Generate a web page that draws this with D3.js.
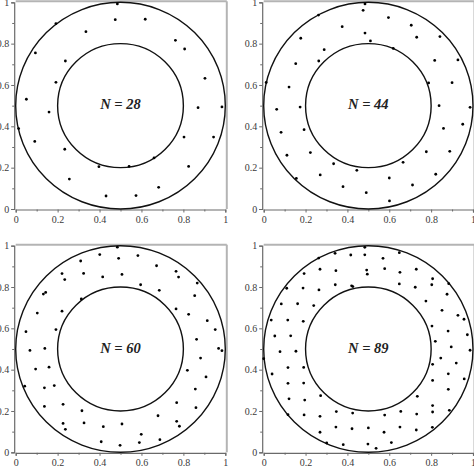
<!DOCTYPE html>
<html>
<head>
<meta charset="utf-8">
<script src="https://cdn.jsdelivr.net/npm/d3@7"></script>
<style>
html,body{margin:0;padding:0;background:#fff;}
svg{display:block;}
</style>
</head>
<body>
<svg id="chart" width="474" height="476"></svg>
<script>
// ---- data ----
const panelLabels = ["N = 28", "N = 44", "N = 60", "N = 89"];
const tickValues = [0, 0.2, 0.4, 0.6, 0.8, 1];
const tickLabels = ["0", "0.2", "0.4", "0.6", "0.8", "1"];
const minorTicks = [0.1, 0.3, 0.5, 0.7, 0.9];
const outerRadius = 0.5;
const innerRadius = 0.3;
const center = [0.5, 0.5];

const pointsN28 = [
  [0.485,0.992],[0.475,0.916],[0.618,0.918],[0.192,0.897],[0.335,0.858],
  [0.762,0.816],[0.806,0.774],[0.094,0.755],[0.237,0.716],[0.903,0.632],
  [0.192,0.613],[0.051,0.531],[0.870,0.490],[0.984,0.494],[0.159,0.469],
  [0.014,0.389],[0.803,0.348],[0.944,0.348],[0.091,0.327],[0.234,0.289],
  [0.397,0.205],[0.541,0.206],[0.660,0.247],[0.825,0.206],[0.256,0.145],
  [0.682,0.105],[0.431,0.063],[0.574,0.065]
];
const pointsN44 = [
  [0.484,0.992],[0.475,0.961],[0.596,0.926],[0.262,0.938],[0.705,0.889],
  [0.375,0.882],[0.484,0.851],[0.731,0.831],[0.842,0.834],[0.177,0.826],
  [0.510,0.813],[0.289,0.771],[0.619,0.777],[0.263,0.716],[0.153,0.703],
  [0.817,0.719],[0.928,0.721],[0.012,0.612],[0.788,0.610],[0.900,0.611],
  [0.121,0.590],[0.062,0.482],[0.174,0.493],[0.838,0.500],[0.986,0.492],
  [0.083,0.371],[0.193,0.384],[0.859,0.390],[0.951,0.410],[0.111,0.260],
  [0.223,0.273],[0.777,0.277],[0.889,0.279],[0.334,0.219],[0.666,0.226],
  [0.445,0.187],[0.156,0.148],[0.270,0.165],[0.822,0.168],[0.711,0.116],
  [0.600,0.150],[0.379,0.108],[0.490,0.079],[0.601,0.039]
];
const pointsN60 = [
  [0.485,0.993],[0.401,0.957],[0.583,0.952],[0.491,0.939],[0.310,0.926],
  [0.672,0.903],[0.765,0.876],[0.221,0.865],[0.324,0.866],[0.507,0.861],
  [0.415,0.849],[0.777,0.848],[0.234,0.836],[0.866,0.819],[0.596,0.811],
  [0.685,0.784],[0.132,0.766],[0.143,0.774],[0.854,0.758],[0.313,0.742],
  [0.103,0.674],[0.221,0.683],[0.765,0.694],[0.825,0.668],[0.914,0.637],
  [0.192,0.594],[0.952,0.594],[0.049,0.584],[0.863,0.547],[0.068,0.493],
  [0.139,0.503],[0.968,0.503],[0.984,0.492],[0.882,0.456],[0.159,0.412],
  [0.095,0.403],[0.819,0.397],[0.908,0.365],[0.043,0.320],[0.184,0.323],
  [0.137,0.312],[0.857,0.306],[0.768,0.240],[0.316,0.201],[0.137,0.222],
  [0.226,0.232],[0.860,0.216],[0.679,0.177],[0.226,0.140],[0.326,0.142],
  [0.507,0.137],[0.768,0.150],[0.781,0.126],[0.237,0.111],[0.418,0.124],
  [0.599,0.087],[0.408,0.051],[0.688,0.061],[0.590,0.047],[0.498,0.034]
];
const pointsN89 = [
  [0.483,0.992],[0.341,0.963],[0.416,0.955],[0.483,0.956],[0.263,0.940],
  [0.269,0.886],[0.345,0.879],[0.492,0.882],[0.495,0.862],[0.193,0.865],
  [0.342,0.811],[0.420,0.806],[0.110,0.794],[0.188,0.795],[0.264,0.786],
  [0.084,0.718],[0.162,0.719],[0.239,0.710],[0.036,0.640],[0.115,0.640],
  [0.189,0.634],[0.053,0.563],[0.129,0.564],
  [0.648,0.966],[0.570,0.939],[0.578,0.889],[0.651,0.871],[0.729,0.886],
  [0.807,0.840],[0.648,0.815],[0.724,0.799],[0.803,0.811],[0.884,0.816],
  [0.876,0.765],[0.775,0.732],[0.852,0.687],[0.928,0.663],[0.957,0.644],
  [0.804,0.611],[0.881,0.587],[0.973,0.569],[0.820,0.537],[0.896,0.510],
  [0.986,0.494],
  [0.078,0.487],[0.154,0.489],[0.000,0.453],[0.040,0.379],[0.116,0.410],
  [0.191,0.411],[0.116,0.334],[0.191,0.335],[0.121,0.259],[0.196,0.253],
  [0.272,0.274],[0.116,0.182],[0.193,0.181],[0.269,0.174],[0.347,0.197],
  [0.425,0.190],[0.269,0.097],[0.345,0.122],[0.422,0.114],[0.301,0.045],
  [0.380,0.037],
  [0.846,0.456],[0.807,0.426],[0.920,0.432],[0.807,0.348],[0.882,0.380],
  [0.958,0.355],[0.882,0.305],[0.734,0.271],[0.807,0.226],[0.807,0.195],
  [0.887,0.203],[0.655,0.198],[0.578,0.180],[0.731,0.185],[0.500,0.118],
  [0.575,0.097],[0.651,0.122],[0.729,0.108],[0.806,0.121],[0.498,0.040],
  [0.537,0.019],[0.610,0.047],[0.426,0.802]
];
const panelPoints = [pointsN28, pointsN44, pointsN60, pointsN89];

// ---- layout ----
const boxes = [
  {left:15.7, right:225.3, top:2.3, bottom:209},
  {left:263.7, right:473, top:2.3, bottom:209},
  {left:15.7, right:225.3, top:245.7, bottom:452.3},
  {left:263.7, right:473, top:245.7, bottom:452.3}
];

const svg = d3.select("#chart");
const serif = "'Liberation Serif','Times New Roman',serif";

boxes.forEach((b, i) => {
  const x = d3.scaleLinear().domain([0,1]).range([b.left, b.right]);
  const y = d3.scaleLinear().domain([0,1]).range([b.bottom, b.top]);
  const g = svg.append("g");

  // light frame (top / right)
  g.append("line").attr("x1", x(0)).attr("x2", x(1)+1.5).attr("y1", y(1)-1).attr("y2", y(1)-1)
    .attr("stroke", "#b4b4b4").attr("stroke-width", 2);
  g.append("line").attr("x1", x(1)+1.5).attr("x2", x(1)+1.5).attr("y1", y(1)-1).attr("y2", y(0))
    .attr("stroke", "#b4b4b4").attr("stroke-width", 2);

  // axes
  const xAxis = d3.axisBottom(x).tickValues(tickValues)
    .tickFormat((d, k) => tickLabels[k]).tickSize(3).tickPadding(3);
  const yAxis = d3.axisLeft(y).tickValues(tickValues)
    .tickFormat((d, k) => tickLabels[k]).tickSize(3).tickPadding(2);
  const gx = g.append("g").attr("transform", `translate(0,${y(0)+0.5})`).call(xAxis);
  const gy = g.append("g").attr("transform", `translate(${x(0)-1.5},0)`).call(yAxis);
  [gx, gy].forEach(a => {
    a.select(".domain").attr("stroke", "#6a6a6a").attr("stroke-width", 1.2);
    a.selectAll(".tick line").attr("stroke", "#6a6a6a");
    a.selectAll("text").attr("font-family", serif).attr("font-size", 10).attr("fill", "#3a3a3a");
  });
  // minor ticks
  g.append("g").attr("transform", `translate(0,${y(0)+0.5})`)
    .call(d3.axisBottom(x).tickValues(minorTicks).tickSize(2).tickFormat(""))
    .call(a => { a.select(".domain").remove(); a.selectAll("line").attr("stroke", "#6a6a6a"); });
  g.append("g").attr("transform", `translate(${x(0)-1.5},0)`)
    .call(d3.axisLeft(y).tickValues(minorTicks).tickSize(2).tickFormat(""))
    .call(a => { a.select(".domain").remove(); a.selectAll("line").attr("stroke", "#6a6a6a"); });

  // circles
  [outerRadius, innerRadius].forEach(r => {
    g.append("ellipse")
      .attr("cx", x(center[0])).attr("cy", y(center[1]))
      .attr("rx", x(r) - x(0)).attr("ry", y(0) - y(r))
      .attr("fill", "none").attr("stroke", "#111").attr("stroke-width", 1.4);
  });

  // points
  g.selectAll("circle.pt").data(panelPoints[i]).join("circle")
    .attr("class", "pt")
    .attr("cx", d => x(d[0])).attr("cy", d => y(d[1]))
    .attr("r", 1.4).attr("fill", "#000");

  // label
  const parts = panelLabels[i].split(" = ");
  const t = g.append("text")
    .attr("x", x(0.5)).attr("y", y(0.483))
    .attr("text-anchor", "middle")
    .attr("font-family", serif).attr("font-size", 14.5)
    .attr("font-weight", "bold").attr("font-style", "italic").attr("fill", "#222");
  t.append("tspan").text(parts[0]);
  t.append("tspan").text(" = " + parts[1]);
});
</script>
</body>
</html>
